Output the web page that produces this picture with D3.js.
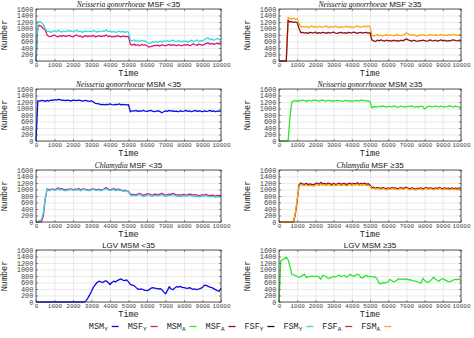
<!DOCTYPE html>
<html>
<head>
<meta charset="utf-8">
<script src="https://cdn.jsdelivr.net/npm/d3@7"></script>
<style>
  body { margin: 0; background: #fff; }
  svg { display: block; }
</style>
</head>
<body>
<svg id="chart" width="474" height="338"></svg>
<script>
// sampled every 100 time units, t = 0 .. 10000
const timeStep = 100;

const ngMsfYoungFsm = [0,1200,1210,1180,1120,1000, 900,920,880,910,930, 900,950,910,890,920, 900,940,910,930,900,
  920,950,900,920,880, 910,930,900,920,900, 940,910,890,920,900, 930,910,960,900,920, 890,910,880,900,920, 890,910,880,900,890,
  640,620,650,610,630, 600,640,610,620,570, 540,560,590,580,600, 570,610,590,620,600, 630,600,620,640,610,
  600,630,590,610,600, 620,580,610,640,600, 620,650,600,630,610, 650,700,720,650,680, 640,660,700,650,670];
const ngMsfYoungMsf = [0,1050,1100,1060,1000,950, 800,750,760,780,800, 760,740,780,760,790, 750,770,790,760,740,
  780,800,760,770,730, 760,780,750,770,760, 790,740,760,780,750, 770,760,800,750,770, 740,760,750,780,760, 740,770,750,760,740,
  510,490,520,480,500, 470,510,490,500,470, 430,440,460,480,470, 490,460,500,480,470, 490,510,480,500,490,
  470,500,480,470,500, 490,510,470,490,530, 500,480,520,500,490, 510,540,560,520,540, 510,530,550,520,540];

const ngMsfOldFsm = [0,0,0,0,0,1350, 1300,1290,1320,1280,1300, 1150,1050,
  1060,1040,1070,1030,1050, 1080,1040,1060,1030,1070, 1050,1040,1060,1080,1030, 1050,1060,1040,1070,1050,
  1030,1060,1040,1050,1070, 1040,1060,1050,1030,1060, 1080,1050,1040,1060,1070, 1050,1080,1060,
  800,760,790,810,780, 800,770,790,820,780, 800,790,770,800,810, 790,780,800,820,870, 830,800,790,810,780,
  760,800,790,810,800, 780,790,820,800,790, 810,780,800,820,790, 800,780,810,790,800, 820,800,790,810,800];
const ngMsfOldMsf = [0,0,0,0,0,1250, 1200,1210,1190,1200,1180, 1000,870,
  880,860,870,850,880, 870,860,890,850,870, 860,880,870,850,880, 860,870,890,860,850,
  870,880,860,870,850, 880,870,860,890,870, 850,870,880,860,870, 880,860,870,
  650,620,600,640,620, 650,630,610,640,620, 630,610,640,620,630, 610,640,620,650,680, 650,630,610,640,620,
  600,630,620,640,630, 610,620,650,630,620, 640,610,630,650,620, 640,610,630,620,640, 650,630,620,640,630];

const ngMsmYoung = [0,1240,
  1230,1250,1240,1220,1250,1230,1260,1250,1270, 1260,1280,1270,1250,1260,1240,1260,1250,1230,1260,1250,
  1240,1260,1250,1230,1240,1250,1230,1220,1240,
  1200,1160,1150,1140,1120, 1130,1110,1130,1120,1140, 1120,1110,1130,1120,1140, 1110,1130,1120,1110,1120,
  900,930,920,940,910, 930,920,940,920,910, 930,940,920,900,920, 930,910,870,900,930, 910,940,920,930,910,
  920,900,930,910,920, 940,910,930,900,920, 940,910,930,920,900, 930,910,920,940,910, 930,900,920,930,910];
const ngMsmOld = [0,0,0,0,0,0,700,1200,
  1230,1240,1220,1250,1230, 1260,1240,1220,1250,1240, 1230,1260,1250,1240,1230, 1250,1260,1240,1230,1250,
  1240,1220,1240,1230,1250, 1240,1230,1220,1240,1250, 1230,1240,1220,1230,1250, 1240,1230,1260,1240,1250, 1230,1240,1210,
  1020,1050,1060,1040,1070, 1050,1080,1060,1040,1070, 1060,1050,1080,1060,1040, 1050,1070,1060,1040,1050,
  1070,1060,1080,1050,1040, 1060,1050,1070,1060,980, 1040,1060,1070,1050,1060, 1080,1060,1050,1070,1060,
  1040,1050,1070,1080,1060, 1050,1070,1060,1040,1050];

const chMsfYoungFsm = [0,20,40,80,300,750,1000,
  960,980,1000,970,990, 1020,980,1000,970,960, 990,980,1000,970,990, 980,1000,960,990,1000,
  980,970,960,990,1000, 980,970,990,960,980, 1000,1020,990,970,980, 1000,960,990,970,980, 940,960,950,920,
  830,810,820,800,830, 850,820,780,800,820, 840,800,790,820,810, 800,820,840,810,790, 800,820,810,840,820,
  790,800,780,800,810, 790,800,820,810,790, 800,790,770,780,800, 790,810,780,770,790, 780,760,780,770,790];
const chMsfYoungMsf = [0,0,0,10,200,700,1020,
  990,1000,1020,990,1010, 1050,1010,1030,1000,990, 1010,1000,1020,990,1010, 1000,1030,990,1010,1020,
  1000,990,980,1010,1020, 1000,990,1010,980,1000, 1020,1060,1010,990,1000, 1030,990,1010,1000,990, 960,980,960,940,
  860,840,850,830,860, 880,850,820,840,860, 870,840,830,860,850, 840,860,880,850,830, 840,860,850,880,860,
  830,840,820,840,850, 830,840,860,850,830, 840,830,810,820,840, 830,850,820,810,830, 820,800,820,810,830];

const chMsfOldFsm = [0,0,0,0,0,0,0,0,0,300,700,1100,1150,
  1130,1120,1140,1110,1130, 1120,1100,1130,1150,1120, 1160,1130,1140,1120,1150, 1130,1110,1140,1120,1130,
  1150,1120,1130,1140,1110, 1130,1150,1120,1140,1130, 1160,1120,1140,1130,1150, 1120,1130,1100,
  1020,1040,1010,1030,1020, 1000,1030,1010,990,1020, 1000,1030,1010,1020,990, 1010,1030,1000,1020,1040,
  1010,990,1020,1000,980, 1010,1000,1020,990,1010, 1030,1000,1020,1010,990, 1020,1000,1030,1010,990,
  1020,1000,1010,990,1020, 1000,1010,990,1020,1000];
const chMsfOldMsf = [0,0,0,0,0,0,0,0,0,250,650,1150,1200,
  1170,1160,1190,1150,1170, 1160,1140,1180,1200,1160, 1220,1170,1190,1160,1200, 1180,1150,1190,1160,1170,
  1200,1160,1180,1190,1150, 1180,1200,1160,1190,1170, 1210,1160,1190,1170,1200, 1160,1180,1140,
  1050,1070,1040,1060,1050, 1030,1060,1040,1020,1050, 1030,1060,1040,1050,1020, 1040,1060,1030,1050,1070,
  1040,1020,1050,1030,1010, 1040,1030,1050,1020,1040, 1060,1030,1050,1040,1020, 1050,1030,1060,1040,1020,
  1050,1030,1040,1020,1050, 1030,1040,1020,1050,1030];

const lgvMsmYoung = [0,0,0,0,0,0,0,0,0,0, 0,0,0,0,0,0,0,0,0,0, 0,0,0,0,0,0,0,
  30,120,220,330,450,530,600,640,620,600,640,650,600,540,600,640,620,660,690,710,670,660,680,620,
  540,520,500,450,400,390,400,380,360,350,370,420,440,430,420,400,410,380,310,250,
  350,470,400,380,430,470,460,480,450,440,430,420,440,410,390,400,380,400,420,450,
  520,510,480,460,440,410,380,350,330,420];
const lgvMsmOld = [0,1280,1300,1340,1380,1300,1100,850,840,810,790,760,780,820,860,750,770,780,800,790,
  780,800,760,700,820,800,780,720,740,760,790,770,800,830,780,800,820,760,800,850,
  820,790,820,860,830,760,740,800,820,780,790,780,770,760,700,580,560,600,590,600,
  620,700,650,620,640,680,720,700,710,690,710,680,690,660,650,640,620,600,580,730,
  660,620,600,650,700,760,700,660,640,700,720,680,660,620,630,650,680,700,690,710,640];

const xTicks = [0, 1000, 2000, 3000, 4000, 5000, 6000, 7000, 8000, 9000, 10000];
const yTicks = [0, 200, 400, 600, 800, 1000, 1200, 1400, 1600];

const legendNames = ["MSM", "MSF", "MSM", "MSF", "FSF", "FSM", "FSF", "FSM"];
const legendSubs = ["Y", "Y", "A", "A", "Y", "Y", "A", "A"];

const colors = {
  MSM_Y: "#0a0ae6", MSF_Y: "#e0147c", MSM_A: "#2ee62e", MSF_A: "#8e1020",
  FSF_Y: "#111111", FSM_Y: "#33dcdc", FSF_A: "#e02a2a", FSM_A: "#f8a818"
};
const legendColors = [colors.MSM_Y, colors.MSF_Y, colors.MSM_A, colors.MSF_A,
  colors.FSF_Y, colors.FSM_Y, colors.FSF_A, colors.FSM_A];

const panels = [
  { col: 0, row: 0, genus: "Neisseria gonorrhoeae", group: "MSF <35",
    lines: [[ngMsfYoungMsf, colors.MSF_Y], [ngMsfYoungFsm, colors.FSM_Y]] },
  { col: 1, row: 0, genus: "Neisseria gonorrhoeae", group: "MSF \u226535",
    lines: [[ngMsfOldFsm, colors.FSM_A], [ngMsfOldMsf, colors.MSF_A]] },
  { col: 0, row: 1, genus: "Neisseria gonorrhoeae", group: "MSM <35",
    lines: [[ngMsmYoung, colors.MSM_Y]] },
  { col: 1, row: 1, genus: "Neisseria gonorrhoeae", group: "MSM \u226535",
    lines: [[ngMsmOld, colors.MSM_A]] },
  { col: 0, row: 2, genus: "Chlamydia", group: "MSF <35",
    lines: [[chMsfYoungMsf, colors.MSF_Y], [chMsfYoungFsm, colors.FSM_Y]] },
  { col: 1, row: 2, genus: "Chlamydia", group: "MSF \u226535",
    lines: [[chMsfOldMsf, colors.MSF_A], [chMsfOldFsm, colors.FSM_A]] },
  { col: 0, row: 3, genus: "", group: "LGV MSM <35",
    lines: [[lgvMsmYoung, colors.MSM_Y]] },
  { col: 1, row: 3, genus: "", group: "LGV MSM \u226535",
    lines: [[lgvMsmOld, colors.MSM_A]] }
];

const colX = [[36, 221], [279, 461]];
const rowTop = [9, 89, 170, 250];
const plotH = 52;
const mono = "'Liberation Mono', 'DejaVu Sans Mono', monospace";

const svg = d3.select("#chart");
svg.append("rect").attr("width", 474).attr("height", 338).attr("fill", "#fff");

panels.forEach(p => {
  const [x0, x1] = colX[p.col];
  const top = rowTop[p.row], bottom = top + plotH;

  const x = d3.scaleLinear().domain([0, 10000]).range([x0, x1]);
  const y = d3.scaleLinear().domain([0, 1600]).range([bottom, top]);

  const g = svg.append("g");

  // grid
  g.append("g")
    .attr("transform", `translate(0,${bottom})`)
    .call(d3.axisBottom(x).tickValues(xTicks).tickSize(-plotH).tickFormat(""))
    .call(a => a.select(".domain").remove())
    .selectAll("line").attr("stroke", "#dcdcdc").attr("stroke-width", 0.6);
  g.append("g")
    .attr("transform", `translate(${x0},0)`)
    .call(d3.axisLeft(y).tickValues(yTicks).tickSize(-(x1 - x0)).tickFormat(""))
    .call(a => a.select(".domain").remove())
    .selectAll("line").attr("stroke", "#dcdcdc").attr("stroke-width", 0.6);

  // lines
  const line = d3.line()
    .x((d, i) => x(i * timeStep))
    .y(d => y(d));
  p.lines.forEach(([vals, col]) => {
    g.append("path")
      .datum(vals)
      .attr("d", line)
      .attr("fill", "none")
      .attr("stroke", col)
      .attr("stroke-width", 1.3)
      .attr("stroke-linejoin", "round");
  });

  // axes with inward ticks
  const xa = g.append("g")
    .attr("transform", `translate(0,${bottom})`)
    .call(d3.axisBottom(x).tickValues(xTicks).tickSize(-2).tickPadding(2.5).tickFormat(d3.format("d")));
  const ya = g.append("g")
    .attr("transform", `translate(${x0},0)`)
    .call(d3.axisLeft(y).tickValues(yTicks).tickSize(-2).tickPadding(2.5).tickFormat(d3.format("d")));
  [xa, ya].forEach(a => {
    a.select(".domain").remove();
    a.selectAll("line").attr("stroke", "#444").attr("stroke-width", 0.6);
    a.selectAll("text").attr("font-family", mono).attr("fill", "#444");
  });
  xa.selectAll("text").attr("font-size", 6).attr("dy", "0.6em");
  ya.selectAll("text").attr("font-size", 7).attr("dy", "0.34em");

  g.append("g")
    .attr("transform", `translate(0,${top})`)
    .call(d3.axisTop(x).tickValues(xTicks).tickSize(-2).tickFormat(""))
    .call(a => a.select(".domain").remove())
    .selectAll("line").attr("stroke", "#444").attr("stroke-width", 0.6);
  g.append("g")
    .attr("transform", `translate(${x1},0)`)
    .call(d3.axisRight(y).tickValues(yTicks).tickSize(-2).tickFormat(""))
    .call(a => a.select(".domain").remove())
    .selectAll("line").attr("stroke", "#444").attr("stroke-width", 0.6);

  g.append("rect")
    .attr("x", x0).attr("y", top)
    .attr("width", x1 - x0).attr("height", plotH)
    .attr("fill", "none").attr("stroke", "#333").attr("stroke-width", 0.8);

  // labels
  g.append("text")
    .attr("x", (x0 + x1) / 2).attr("y", bottom + 14.5)
    .attr("text-anchor", "middle")
    .attr("font-family", mono).attr("font-size", 8.5).attr("fill", "#222")
    .text("Time");
  g.append("text")
    .attr("transform", `translate(${x0 - 29},${(top + bottom) / 2}) rotate(-90)`)
    .attr("text-anchor", "middle")
    .attr("font-family", mono).attr("font-size", 8.5).attr("fill", "#222")
    .text("Number");

  const title = g.append("text")
    .attr("x", (x0 + x1) / 2).attr("y", top - 2)
    .attr("text-anchor", "middle")
    .attr("font-size", 7.5).attr("fill", "#111");
  if (p.genus) {
    title.append("tspan")
      .attr("font-family", "'Liberation Serif', serif")
      .attr("font-style", "italic")
      .text(p.genus + " ");
  }
  title.append("tspan")
    .attr("font-family", "'Liberation Sans', Arial, sans-serif")
    .attr("font-size", 8)
    .text(p.group);
});

// legend
const legend = svg.append("g");
let cx = 0;
legendNames.forEach((name, i) => {
  const item = legend.append("g").attr("transform", `translate(${cx},0)`);
  const t = item.append("text")
    .attr("font-family", mono).attr("font-size", 8.5).attr("fill", "#222");
  t.append("tspan").text(name);
  t.append("tspan").attr("font-size", 6).attr("dy", 2).text(legendSubs[i]);
  const w = t.node().getComputedTextLength();
  item.append("line")
    .attr("x1", w + 4).attr("x2", w + 11)
    .attr("y1", -2.5).attr("y2", -2.5)
    .attr("stroke", legendColors[i]).attr("stroke-width", 1.3);
  cx += w + 20;
});
const legendW = cx - 9;
legend.attr("transform", `translate(${240 - legendW / 2},329)`);
</script>
</body>
</html>
